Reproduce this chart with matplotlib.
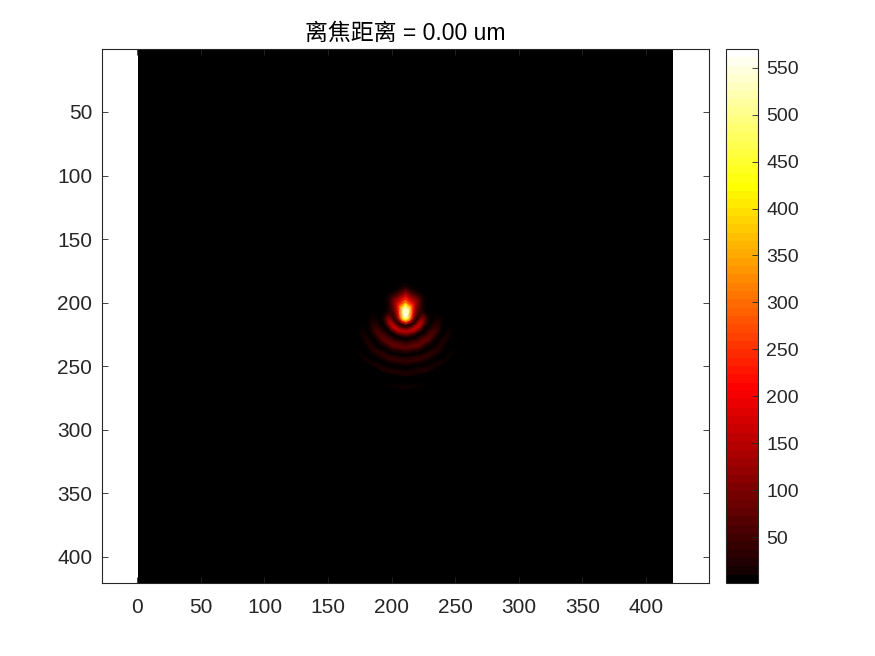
import numpy as np
import matplotlib
matplotlib.use('Agg')
import matplotlib.pyplot as plt
from matplotlib.colors import ListedColormap

plt.rcParams['font.family'] = ['Liberation Sans', 'Noto Sans CJK SC']

# spot intensity, in polar samples around the peak
center_x = 211
center_y = 207.5
radii = [0, 3, 6, 8, 10.5, 13, 15, 17, 19, 21, 24.5, 28, 31, 34, 36.5, 39, 41.5, 44, 46.5, 49, 51.5, 54, 56.5, 59, 62, 65, 68]
angles = [0, 20, 40, 60, 75, 90, 110, 135, 180]  # degrees from straight down

v_000 = [565, 560, 450, 250, 12, 70, 150, 110, 40, 4, 45, 80, 30, 3, 22, 38, 16, 3, 12, 20, 9, 2, 6, 10, 3, 1, 1]
v_020 = [565, 550, 410, 210, 12, 85, 165, 115, 40, 4, 48, 82, 30, 3, 22, 38, 16, 3, 12, 19, 9, 2, 6, 8, 3, 1, 1]
v_040 = [565, 520, 320, 140, 12, 110, 175, 115, 35, 4, 50, 78, 26, 3, 18, 30, 13, 3, 9, 14, 6, 2, 4, 5, 2, 1, 1]
v_060 = [565, 490, 240, 100, 15, 110, 140, 85, 25, 4, 33, 46, 16, 2, 10, 15, 6, 2, 4, 6, 2, 1, 2, 2, 1, 1, 1]
v_075 = [565, 480, 205, 95, 35, 70, 75, 40, 12, 3, 12, 16, 6, 1, 3, 5, 2, 1, 1, 2, 1, 1, 1, 1, 1, 1, 1]
v_090 = [565, 480, 200, 100, 45, 30, 15, 8, 3, 1, 2, 3, 1, 1, 1, 1, 1, 1, 1, 1, 1, 1, 1, 1, 1, 1, 1]
v_110 = [565, 490, 240, 140, 75, 30, 10, 3, 1, 1, 1, 1, 1, 1, 1, 1, 1, 1, 1, 1, 1, 1, 1, 1, 1, 1, 1]
v_135 = [565, 510, 330, 230, 150, 100, 70, 35, 10, 2, 1, 1, 1, 1, 1, 1, 1, 1, 1, 1, 1, 1, 1, 1, 1, 1, 1]
v_180 = [565, 530, 430, 320, 240, 170, 120, 75, 38, 15, 3, 1, 1, 1, 1, 1, 1, 1, 1, 1, 1, 1, 1, 1, 1, 1, 1]

image_size = 420
vmin = 1
vmax = 570
xticks = [0, 50, 100, 150, 200, 250, 300, 350, 400]
yticks = [50, 100, 150, 200, 250, 300, 350, 400]
cbar_ticks = [50, 100, 150, 200, 250, 300, 350, 400, 450, 500, 550]
title = '离焦距离 = 0.00 um'

dark = '#262626'
# hot with 64 bands, lowest band pure black like the reference
colors = plt.get_cmap('hot', 64)(np.arange(64))
colors[0] = [0, 0, 0, 1]
cmap = ListedColormap(colors)

fig = plt.figure(figsize=(8.75, 6.56), dpi=100)
ax = fig.add_axes([102 / 875, 1 - 583 / 656, 607 / 875, 534 / 656])
cax = fig.add_axes([726 / 875, 1 - 583 / 656, 32 / 875, 534 / 656])

# black background frame, same scale as the spot
im = ax.imshow(np.full((image_size, image_size), vmin), cmap=cmap, vmin=vmin, vmax=vmax,
               extent=(0.5, image_size + 0.5, image_size + 0.5, 0.5), aspect='auto',
               interpolation='nearest')

half = np.array([v_000, v_020, v_040, v_060, v_075, v_090, v_110, v_135, v_180], dtype=float).T
values = np.hstack([half[:, :0:-1], half])
theta = np.radians(np.r_[-np.array(angles[:0:-1]), angles])
r_grid, t_grid = np.meshgrid(radii, theta, indexing='ij')
ax.pcolormesh(center_x + r_grid * np.sin(t_grid), center_y + r_grid * np.cos(t_grid), values,
              shading='gouraud', cmap=cmap, vmin=vmin, vmax=vmax)

ax.set_xlim(-27.8, 449.6)
ax.set_ylim(image_size + 0.5, 0.5)
ax.set_xticks(xticks)
ax.set_yticks(yticks)
ax.tick_params(direction='in', length=4.5, width=0.6, top=True, right=True,
               labelsize=15, labelcolor=dark, color=dark)
ax.tick_params(axis='x', pad=11)
ax.tick_params(axis='y', pad=7)
for spine in ax.spines.values():
    spine.set_linewidth(0.8)
    spine.set_color(dark)
ax.set_title(title, fontsize=16.5, color='black', pad=6.5)

cbar = fig.colorbar(im, cax=cax)
cbar.set_ticks(cbar_ticks)
cbar.ax.tick_params(direction='in', length=4.5, width=0.6, labelsize=14, labelcolor=dark, color=dark, pad=6)
cbar.outline.set_linewidth(0.8)
cbar.outline.set_edgecolor(dark)

fig.savefig('out.png', dpi=100)
